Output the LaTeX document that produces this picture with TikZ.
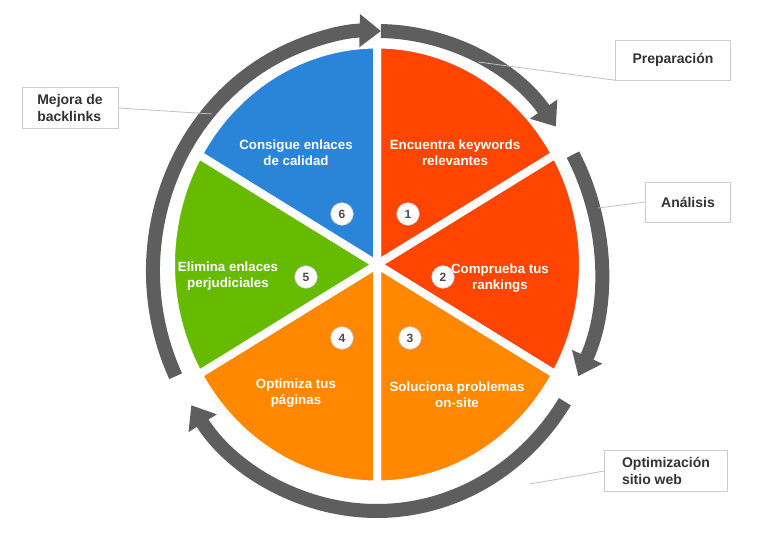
\documentclass[tikz,border=0pt]{standalone}
\usepackage{fontspec}
\setmainfont{Liberation Sans}
\usetikzlibrary{arrows.meta}
\definecolor{cred}{HTML}{FF4500}
\definecolor{corg}{HTML}{FF8800}
\definecolor{cgrn}{HTML}{66BB00}
\definecolor{cblu}{HTML}{2A84D8}
\definecolor{ring}{HTML}{5E5E5E}
\tikzset{
  sector/.style={draw=white,line width=6pt,line join=round},
  stxt/.style={text=white,font=\bfseries\fontsize{10}{12}\selectfont,align=center},
  num/.style={circle,draw=black!25,fill=white,minimum size=17pt,inner sep=0pt,font=\bfseries\fontsize{9}{10}\selectfont,text=black!70},
  ringarc/.style={draw=ring,line width=10.5pt,-{Triangle[length=16pt,width=24pt]}},
  callout/.style={draw=black!20,fill=white,font=\bfseries\fontsize{10.5}{13}\selectfont,text=black!80,align=left,inner sep=5pt},
  cline/.style={draw=black!25,line width=0.6pt}
}
\begin{document}
\begin{tikzpicture}[x=0.75pt,y=0.75pt]
\useasboundingbox (0,0) rectangle (768,554);
\coordinate (c) at (377,289.5);
\coordinate (rc) at (377,283);
% sectors
\foreach \a/\b/\col in {90/30/cred,30/-30/cred,-30/-90/corg,-90/-150/corg,-150/-210/cgrn,150/90/cblu}{
  \fill[\col,sector] (c) -- ++({206*cos(\a)},{220*sin(\a)}) arc[start angle=\a,end angle=\b,x radius=206,y radius=220] -- cycle;
}
% ring arcs
\draw[ringarc] (rc) ++({224*cos(89)},{240*sin(89)}) arc[start angle=89,end angle=37,x radius=224,y radius=240];
\draw[ringarc] (rc) ++({224*cos(29)},{240*sin(29)}) arc[start angle=29,end angle=-26,x radius=224,y radius=240];
\draw[ringarc] (rc) ++({224*cos(-33)},{240*sin(-33)}) arc[start angle=-33,end angle=-146,x radius=224,y radius=240];
\draw[ringarc] (rc) ++({224*cos(-154)},{240*sin(-154)}) arc[start angle=-154,end angle=-271,x radius=224,y radius=240];
% labels
\node[stxt] (t1) at (455,401) {Encuentra keywords\\relevantes};
\node[stxt] (t2) at (500,276) {Comprueba tus\\rankings};
\node[stxt] (t3) at (457,159) {Soluciona problemas\\on-site};
\node[stxt] (t4) at (296,161) {Optimiza tus\\páginas};
\node[stxt] (t5) at (228,278) {Elimina enlaces\\perjudiciales};
\node[stxt] (t6) at (296,401) {Consigue enlaces\\de calidad};
\node[num] (n1) at (408,340) {1};
\node[num] (n2) at (443,277) {2};
\node[num] (n3) at (410,216) {3};
\node[num] (n4) at (342,216) {4};
\node[num] (n5) at (306,277) {5};
\node[num] (n6) at (342,340) {6};
% callouts
\coordinate (p1) at (478,492);
\coordinate (p2) at (598,346);
\coordinate (p3) at (530,70);
\coordinate (p4) at (212,440);
\node[callout,minimum width=86pt,minimum height=30pt,align=center] (b1) at (673,494) {Preparación};
\node[callout,minimum width=64pt,minimum height=30pt,align=center] (b2) at (688,352) {Análisis};
\node[callout,minimum width=92pt] (b3) at (666,83) {Optimización\\sitio web};
\node[callout,minimum width=72pt] (b4) at (70,446) {Mejora de\\backlinks};
\draw[cline] (b1.south west) -- (p1);
\draw[cline] (b2.west) -- (p2);
\draw[cline] (b3.west) -- (p3);
\draw[cline] (b4.east) -- (p4);
\end{tikzpicture}
\end{document}
